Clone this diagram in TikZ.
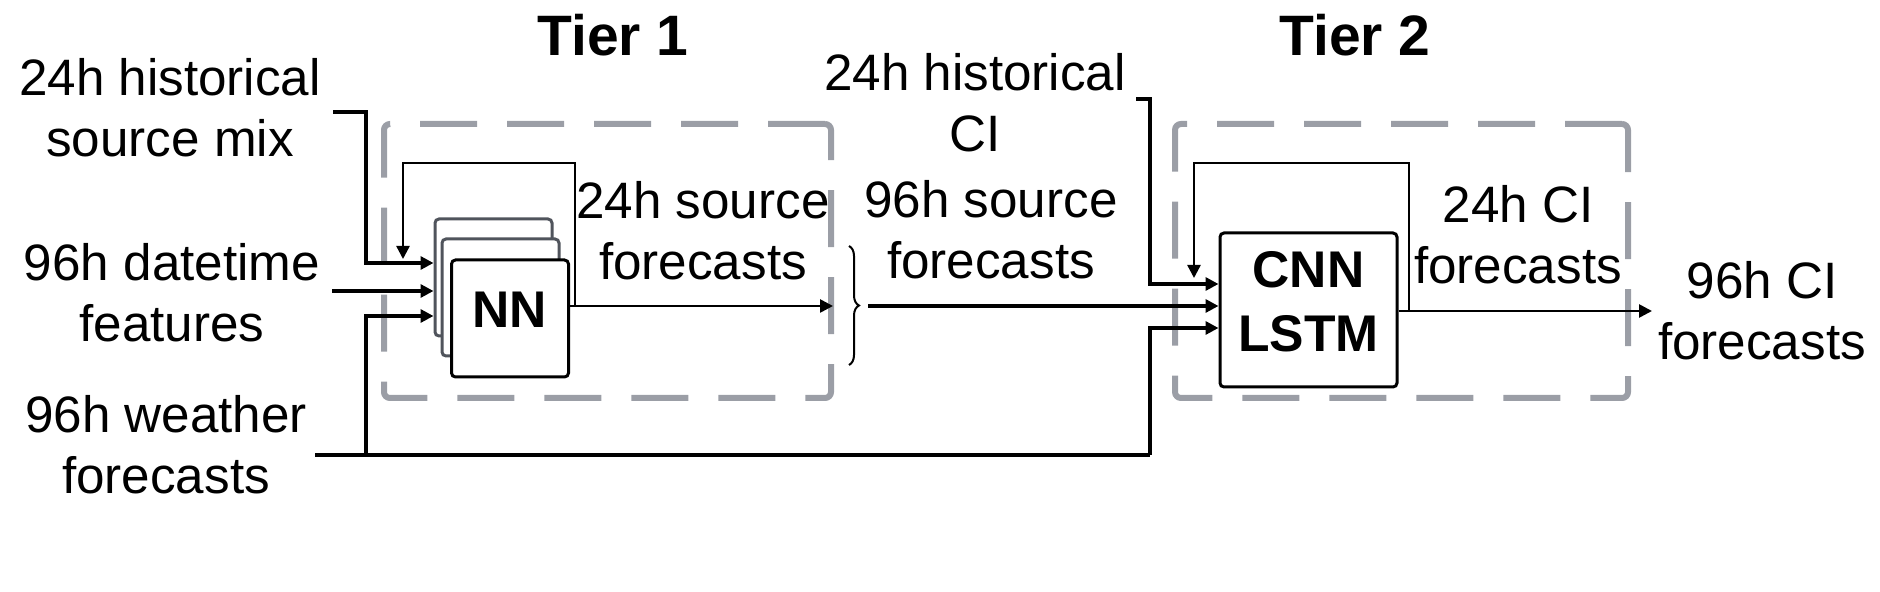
\documentclass[tikz,border=0pt]{standalone}
\usepackage{fontspec}
\setmainfont{Liberation Sans}
\usetikzlibrary{arrows.meta,decorations.pathreplacing}
\definecolor{tiergray}{RGB}{155,158,166}
\definecolor{stackgray}{RGB}{80,84,92}
\begin{document}
\begin{tikzpicture}[x=0.5pt,y=-0.5pt,
  txt/.style={font=\fontsize{25.6pt}{30.5pt}\selectfont, align=center, anchor=base, inner sep=0pt},
  ttl/.style={font=\bfseries\fontsize{28.5pt}{33pt}\selectfont, anchor=base, inner sep=0pt},
  bl/.style={font=\bfseries\fontsize{25.8pt}{32pt}\selectfont, align=center, anchor=base, inner sep=0pt},
  tier/.style={draw=tiergray, line width=3pt, dash pattern=on 28.5pt off 15pt, rounded corners=3pt, inner sep=0pt},
  nnbox/.style={draw, fill=white, line width=1.5pt, rounded corners=2pt, minimum width=58.5pt, minimum height=58.5pt, inner sep=0pt},
  wire/.style={line width=1.6pt},
  conn/.style={line width=1.6pt, -{Triangle[length=6.5pt,width=6.5pt]}},
  outc/.style={line width=1.3pt, -{Triangle[length=6.5pt,width=6.5pt]}},
  fb/.style={line width=1.2pt, -{Triangle[length=6.5pt,width=6.5pt]}}
]
\useasboundingbox (0,0) rectangle (1880,592);
% tier boxes
\node[tier, minimum width=223.5pt, minimum height=137pt] (t1box) at (607.5,261) {};
\node[tier, minimum width=226.5pt, minimum height=137pt] (t2box) at (1401.5,261) {};
% titles
\node[ttl] (tier1) at (613,56) {Tier 1};
\node[ttl] (tier2) at (1355,56) {Tier 2};
% texts (anchor = baseline of the last line)
\node[txt] (hsm) at (170,157) {24h historical\\source mix};
\node[txt] (dtf) at (172,342) {96h datetime\\features};
\node[txt] (wf) at (166,494) {96h weather\\forecasts};
\node[txt] (sf24) at (703,280) {24h source\\forecasts};
\node[txt] (hci) at (975,152) {24h historical\\CI};
\node[txt] (sf96) at (991,279) {96h source\\forecasts};
\node[txt] (ci24) at (1518,284) {24h CI\\forecasts};
\node[txt] (ci96) at (1762,360) {96h CI\\forecasts};
% NN stack
\node[nnbox, draw=stackgray] (nnA) at (493.5,277.5) {};
\node[nnbox, draw=stackgray] (nnB) at (500.5,297.5) {};
\node[nnbox] (nnC) at (510,318.5) {};
\node[bl] (nnT) at (510,328) {NN};
% CNN box
\node[draw, fill=white, line width=1.5pt, rounded corners=2pt, minimum width=88.5pt, minimum height=77pt, inner sep=0pt] (cnn) at (1308.5,310) {};
\node[bl] (cnnT) at (1308.5,352) {CNN\\LSTM};
% coordinates
\coordinate (hsmS) at (333,112);
\coordinate (dtS) at (332,291);
\coordinate (wS) at (315,455);
\coordinate (busL) at (366,455);
\coordinate (busR) at (1150,455);
\coordinate (nnOut) at (833,306);
\coordinate (brT) at (849,246);
\coordinate (brB) at (849,365);
\coordinate (brTip) at (868,306);
\coordinate (hciS) at (1136,99);
\coordinate (ciOut) at (1652,311);
% tier 1 inputs
\draw[conn] (hsmS) -| (busL |- 0,263) -- (nnA.west |- 0,263);
\draw[conn] (dtS) -- (dtS -| nnA.west);
\draw[wire] (wS) -- (busR);
\draw[conn] (busL) |- (nnA.west |- 0,316);
% NN output and feedback
\draw[outc] (nnC.east |- nnOut) -- (nnOut);
\draw[fb] (575,306) -- (575,163) -| (403,259);
% brace
\draw[decorate, decoration={brace, amplitude=5pt}, line width=1pt] (brT) -- (brB);
% tier 2 inputs
\draw[conn] (hciS) -| (busR |- 0,284) -- (cnn.west |- 0,284);
\draw[conn] (brTip) -- (cnn.west |- brTip);
\draw[conn] (busR) |- (cnn.west |- 0,328);
% CNN output and feedback
\draw[outc] (cnn.east |- ciOut) -- (ciOut);
\draw[fb] (1409,311) -- (1409,163) -| (1194,278);
\end{tikzpicture}
\end{document}
